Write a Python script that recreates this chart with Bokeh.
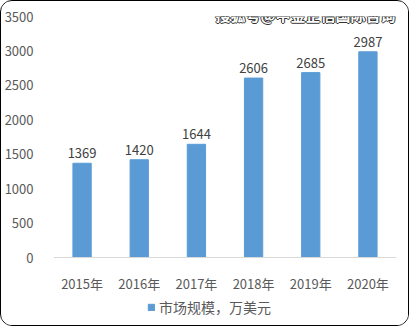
from bokeh.plotting import figure
from bokeh.models import ColumnDataSource, Legend, LegendItem, Label, FixedTicker
from bokeh.embed import file_html
from bokeh.resources import INLINE
from bokeh.core.properties import value

years = ["2015年", "2016年", "2017年", "2018年", "2019年", "2020年"]
market = [1369, 1420, 1644, 2606, 2685, 2987]
y_ticks = [0, 500, 1000, 1500, 2000, 2500, 3000, 3500]
series_name = "市场规模，万美元"
watermark = "搜狐号@中金企信国际咨询"

FONT = "Noto Sans CJK SC"
src = ColumnDataSource(dict(year=years, v=market, t=[str(x) for x in market]))

p = figure(x_range=years, y_range=(-929, 3500), width=409, height=326,
           output_backend="svg", toolbar_location=None,
           min_border_left=52, min_border_right=14, min_border_top=15, min_border_bottom=6)
p.styles = {"border": "1px solid #000000", "border-radius": "12px", "overflow": "hidden"}
p.outline_line_color = None
p.x_range.range_padding = 0
p.xgrid.grid_line_color = None
p.ygrid.grid_line_color = None

r = p.vbar(x="year", top="v", width=0.32, source=src, color="#5b9bd5")
p.text(x="year", y="v", text="t", source=src, text_align="center", text_baseline="bottom",
       y_offset=-5, text_font=value(FONT), text_font_size="13px", text_color="#404040")

p.yaxis.ticker = FixedTicker(ticks=y_ticks)
p.yaxis.axis_line_color = None
p.yaxis.major_tick_line_color = None
p.yaxis.minor_tick_line_color = None
p.yaxis.major_label_text_font = FONT
p.yaxis.major_label_text_font_size = "13px"
p.yaxis.major_label_text_color = "#595959"
p.yaxis.major_label_standoff = 14

p.xaxis.fixed_location = 0
p.xaxis.axis_line_color = "#d9d9d9"
p.xaxis.major_tick_line_color = None
p.xaxis.minor_tick_line_color = None
p.xaxis.major_label_text_font = FONT
p.xaxis.major_label_text_font_size = "13px"
p.xaxis.major_label_text_color = "#595959"
p.xaxis.major_label_standoff = 10

legend = Legend(items=[LegendItem(label=series_name, renderers=[r])],
                orientation="horizontal", location=(94, 4),
                label_text_font=FONT, label_text_font_size="14px", label_text_color="#595959",
                label_height=14, glyph_width=8, glyph_height=8, label_standoff=4,
                border_line_color=None, background_fill_alpha=0, padding=4, margin=0)
p.add_layout(legend, "center")

for dx, dy in [(-1, 0), (1, 0), (0, -1), (0, 1)]:
    p.add_layout(Label(x=342 + dx, y=307 + dy, x_units="screen", y_units="screen", text=watermark,
                       text_align="right", text_baseline="middle", text_font=FONT,
                       text_font_size="15px", text_font_style="bold", text_color="#333333"))
p.add_layout(Label(x=342, y=307, x_units="screen", y_units="screen", text=watermark,
                   text_align="right", text_baseline="middle", text_font=FONT,
                   text_font_size="15px", text_font_style="bold", text_color="#ffffff"))

open("out.html", "w").write(file_html(p, INLINE))
